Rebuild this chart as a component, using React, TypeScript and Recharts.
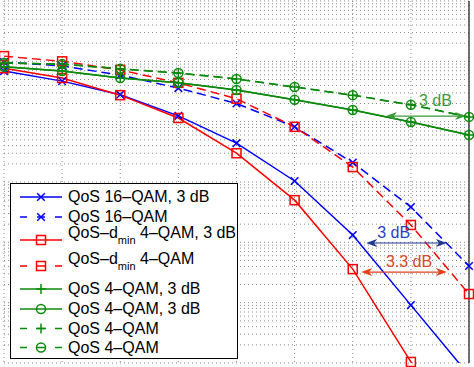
import { CartesianGrid, Line, LineChart, ReferenceDot, ReferenceLine, XAxis, YAxis } from "recharts";

const snrDb = [0, 2, 4, 6, 8, 10, 12, 14, 16];
const qos16Qam3dB = [6.9e-2, 4.7e-2, 2.8e-2, 1.25e-2, 4.4e-3, 1.04e-3, 1.32e-4, 9.1e-6, 6.3e-7];
const qos16Qam = [9.7e-2, 8.4e-2, 5.9e-2, 3.6e-2, 2.0e-2, 8.2e-3, 2.1e-3, 3.85e-4, 4.05e-5];
const dmin4Qam3dB = [7.7e-2, 5.3e-2, 2.75e-2, 1.15e-2, 3.0e-3, 5.0e-4, 3.6e-5, 1.04e-6, 3e-8];
const dmin4Qam = [1.22e-1, 1.0e-1, 7.2e-2, 4.4e-2, 2.4e-2, 8.2e-3, 1.77e-3, 1.94e-4, 1.39e-5];
const qos4Qam3dB = [8.1e-2, 6.9e-2, 5.3e-2, 4.4e-2, 3.35e-2, 2.3e-2, 1.56e-2, 9.9e-3, 6.0e-3];
const qos4Qam = [9.4e-2, 9.0e-2, 7.5e-2, 6.4e-2, 5.1e-2, 3.75e-2, 2.75e-2, 1.9e-2, 1.2e-2];

const xTicks = [0, 2, 4, 6, 8, 10, 12, 14, 16];
const decades = [-6, -5, -4, -3, -2, -1];
const mantissas = [1, 2, 3, 4, 5, 6, 7, 8, 9];
const yTicks = [...decades.flatMap((k) => mantissas.map((m) => m * Math.pow(10, k))), 1];

const gapArrows = [
  { from: 13.14, to: 15.9, at: 1.24e-2, color: "#3a9a3a" },
  { from: 12.46, to: 15.24, at: 9.75e-5, color: "#1f3b8f" },
  { from: 12.29, to: 15.24, at: 3.22e-5, color: "#e0401c" },
];
const gapLabels = [
  { text: "3 dB", x: 14.28, y: 1.82e-2, color: "#3a9a3a" },
  { text: "3 dB", x: 12.84, y: 1.18e-4, color: "#2b3fbf" },
  { text: "3.3 dB", x: 13.14, y: 3.9e-5, color: "#d8482a" },
];

type MarkerKind = "x" | "square" | "plus" | "circle";

type Series = {
  key: string;
  values: number[];
  label: string;
  sub?: string;
  rest?: string;
  color: string;
  dashed: boolean;
  marker: MarkerKind;
};

const BLUE = "#0000ff";
const RED = "#ff0000";
const GREEN = "#0b8a0b";

const series: Series[] = [
  { key: "b1", values: qos16Qam3dB, label: "QoS 16–QAM, 3 dB", color: BLUE, dashed: false, marker: "x" },
  { key: "b2", values: qos16Qam, label: "QoS 16–QAM", color: BLUE, dashed: true, marker: "x" },
  { key: "r1", values: dmin4Qam3dB, label: "QoS–d", sub: "min", rest: " 4–QAM, 3 dB", color: RED, dashed: false, marker: "square" },
  { key: "r2", values: dmin4Qam, label: "QoS–d", sub: "min", rest: " 4–QAM", color: RED, dashed: true, marker: "square" },
  { key: "g1", values: qos4Qam3dB, label: "QoS 4–QAM, 3 dB", color: GREEN, dashed: false, marker: "plus" },
  { key: "g2", values: qos4Qam3dB, label: "QoS 4–QAM, 3 dB", color: GREEN, dashed: false, marker: "circle" },
  { key: "g3", values: qos4Qam, label: "QoS 4–QAM", color: GREEN, dashed: true, marker: "plus" },
  { key: "g4", values: qos4Qam, label: "QoS 4–QAM", color: GREEN, dashed: true, marker: "circle" },
];

const Y_MIN = 1e-6;
const Y_MAX = 1;

const data = snrDb.map((snr, i) => {
  const row: Record<string, number | null> = { snr };
  series.forEach((s) => {
    const v = s.values[i];
    row[s.key] = v;
    row["m_" + s.key] = v >= Y_MIN && v <= Y_MAX ? v : null;
  });
  return row;
});

function Marker({ kind, cx, cy, color }: { kind: MarkerKind; cx: number; cy: number; color: string }) {
  if (kind === "x") {
    const r = 3.8;
    return (
      <path
        d={`M${cx - r},${cy - r}L${cx + r},${cy + r}M${cx - r},${cy + r}L${cx + r},${cy - r}`}
        stroke={color}
        strokeWidth={1.5}
        fill="none"
      />
    );
  }
  if (kind === "square") {
    return <rect x={cx - 4.5} y={cy - 4.5} width={9} height={9} stroke={color} strokeWidth={1.5} fill="none" />;
  }
  if (kind === "plus") {
    const r = 5;
    return (
      <path
        d={`M${cx - r},${cy}L${cx + r},${cy}M${cx},${cy - r}L${cx},${cy + r}`}
        stroke={color}
        strokeWidth={1.5}
        fill="none"
      />
    );
  }
  return <circle cx={cx} cy={cy} r={4.5} stroke={color} strokeWidth={1.5} fill="none" />;
}

const isMajor = (v: number) => Math.abs(Math.log10(v) - Math.round(Math.log10(v))) < 1e-6;

const YTick = (p: any) => (
  <line x1={p.x} x2={p.x + (isMajor(p.payload.value) ? 6 : 3)} y1={p.y} y2={p.y} stroke="#333" strokeWidth={1} />
);

const XTick = (p: any) => <line x1={p.x} x2={p.x} y1={p.y} y2={p.y - 5} stroke="#333" strokeWidth={1} />;

function Arrow(p: any) {
  const { x1, x2, y1 } = p;
  const color = p.arrowColor;
  const L = 11;
  const W = 4;
  const N = 3;
  const left = `${x1},${y1} ${x1 + L},${y1 - W} ${x1 + L - N},${y1} ${x1 + L},${y1 + W}`;
  const right = `${x2},${y1} ${x2 - L},${y1 - W} ${x2 - L + N},${y1} ${x2 - L},${y1 + W}`;
  return (
    <g>
      <line x1={x1 + L - N} x2={x2 - L + N} y1={y1} y2={y1} stroke={color} strokeWidth={1.2} />
      <polygon points={left} fill={color} />
      <polygon points={right} fill={color} />
    </g>
  );
}

const rowHeights = [20, 20, 26, 26, 20, 20, 19, 19];

function LegendBox() {
  return (
    <div
      style={{
        position: "absolute",
        left: 10,
        top: 183,
        width: 228,
        height: 176,
        border: "1px solid #000",
        background: "#fff",
        boxSizing: "border-box",
        paddingTop: 3,
        fontFamily: '"Liberation Sans", Arial, sans-serif',
        fontSize: 16,
        lineHeight: 1,
        color: "#000",
      }}
    >
      {series.map((s, i) => (
        <div key={s.key} style={{ display: "flex", alignItems: "center", height: rowHeights[i] }}>
          <svg width={57} height={rowHeights[i]} style={{ flex: "none" }}>
            <line
              x1={9}
              x2={51}
              y1={rowHeights[i] / 2}
              y2={rowHeights[i] / 2}
              stroke={s.color}
              strokeWidth={1.5}
              strokeDasharray={s.dashed ? "7 10 8 10 7" : undefined}
            />
            <Marker kind={s.marker} cx={30} cy={rowHeights[i] / 2} color={s.color} />
          </svg>
          <span style={{ whiteSpace: "nowrap", position: "relative", top: s.sub ? -5 : 0 }}>
            {s.label}
            {s.sub && <sub style={{ fontSize: 11, verticalAlign: -6 }}>{s.sub}</sub>}
            {s.rest}
          </span>
        </div>
      ))}
    </div>
  );
}

export default function App() {
  return (
    <div style={{ position: "absolute", left: 0, top: 0, width: 474, height: 367, background: "#fff" }}>
      <LineChart width={474} height={367} data={data} margin={{ top: 1, right: 5, bottom: 4, left: 4 }}>
        <CartesianGrid stroke="#8a8a8a" strokeDasharray="1 3" />
        <XAxis
          dataKey="snr"
          type="number"
          domain={[0, 16]}
          ticks={xTicks}
          interval={0}
          height={0}
          tickSize={0}
          tickMargin={0}
          tick={XTick}
          axisLine={{ stroke: "#444", strokeWidth: 1.5 }}
        />
        <YAxis
          type="number"
          scale="log"
          domain={[Y_MIN, Y_MAX]}
          allowDataOverflow
          ticks={yTicks}
          interval={0}
          width={0}
          tickSize={0}
          tickMargin={0}
          tick={YTick}
          axisLine={{ stroke: "#444", strokeWidth: 2 }}
        />
        <YAxis yAxisId="m" type="number" scale="log" domain={[Y_MIN, Y_MAX]} hide />
        <ReferenceLine x={16} stroke="#444" strokeWidth={1.5} />
        {series.map((s) => (
          <Line
            key={s.key}
            dataKey={s.key}
            type="linear"
            stroke={s.color}
            strokeWidth={1.5}
            strokeDasharray={s.dashed ? "9 5" : undefined}
            dot={false}
            activeDot={false}
            isAnimationActive={false}
          />
        ))}
        {series.map((s) => (
          <Line
            key={"m_" + s.key}
            yAxisId="m"
            dataKey={"m_" + s.key}
            stroke="none"
            activeDot={false}
            isAnimationActive={false}
            dot={(p: any) =>
              Number.isFinite(p.cy) ? (
                <Marker key={`${s.key}-${p.index}`} kind={s.marker} cx={p.cx} cy={p.cy} color={s.color} />
              ) : (
                <g key={`${s.key}-${p.index}`} />
              )
            }
          />
        ))}
        {gapArrows.map((a, i) => (
          <ReferenceLine
            key={"arrow" + i}
            segment={[
              { x: a.from, y: a.at },
              { x: a.to, y: a.at },
            ]}
            shape={(p: any) => <Arrow {...p} arrowColor={a.color} />}
          />
        ))}
        {gapLabels.map((l, i) => (
          <ReferenceDot
            key={"label" + i}
            x={l.x}
            y={l.y}
            r={0}
            shape={(p: any) => (
              <text
                x={p.cx}
                y={p.cy}
                fill={l.color}
                fontSize={16}
                fontFamily='"Liberation Sans", Arial, sans-serif'
              >
                {l.text}
              </text>
            )}
          />
        ))}
      </LineChart>
      <LegendBox />
    </div>
  );
}
